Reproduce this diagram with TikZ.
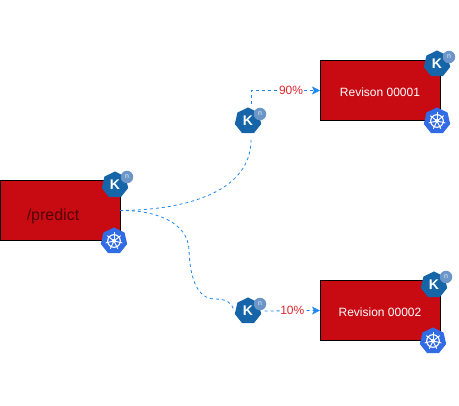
\documentclass[tikz,border=0pt]{standalone}
\usepackage{fontspec}
\setmainfont{Liberation Sans}
\usetikzlibrary{shapes.geometric,arrows.meta}
\definecolor{boxred}{HTML}{C80A12}
\definecolor{linkblue}{HTML}{1E88F0}
\definecolor{knblue}{HTML}{1565A8}
\definecolor{knbadge}{HTML}{6C96C8}
\definecolor{kubeblue}{HTML}{326CE5}
\definecolor{pctred}{HTML}{E0262C}
\tikzset{
  x=1pt,y=-1pt,
  boxnode/.style={draw=black,line width=1pt,fill=boxred,minimum width=120pt,minimum height=60pt,inner sep=0pt,outer sep=0pt},
  boxtext/.style={text=white,font=\fontsize{12}{14}\selectfont},
  knhept/.style={regular polygon,regular polygon sides=7,fill=knblue,minimum size=27pt,inner sep=0pt,text=white,font=\bfseries\fontsize{14}{14}\selectfont},
  knsmall/.style={circle,fill=knbadge,minimum size=12.5pt,inner sep=0pt,text=white!85!knbadge,font=\fontsize{7}{7}\selectfont},
  kubehept/.style={regular polygon,regular polygon sides=7,fill=kubeblue,minimum size=27pt,inner sep=0pt},
  link/.style={draw=linkblue,line width=0.8pt,dash pattern=on 3pt off 3pt},
  linkarrow/.style={link,-{Stealth[length=8pt,width=8pt,inset=2pt]}},
  pct/.style={fill=white,text=pctred,inner sep=0.5pt,font=\fontsize{12}{14}\selectfont},
}
\newcommand{\kubewheel}[2]{%
  \begin{scope}[shift={(#1,#2)}]
    \draw[white,line width=1.1pt] (0,0) circle (6.3pt);
    \foreach \a in {90,141.4,192.9,244.3,295.7,347.1,38.6}
      \draw[white,line width=0.9pt] (0,0) -- (\a:8.6pt);
    \fill[white] (0,0) circle (2pt);
  \end{scope}}
\begin{document}
\begin{tikzpicture}
\useasboundingbox (0,0) rectangle (459,406);
% boxes
\node[boxnode] (predict) at (60,210.5) {};
\node[boxnode] (revone) at (380,90.5) {};
\node[boxnode] (revtwo) at (380,310.5) {};
\node[text=black!60!boxred,font=\fontsize{16}{18}\selectfont] (predlabel) at (53,216) {/predict};
\node[boxtext] (revonelabel) at (380,92) {Revison 00001};
\node[boxtext] (revtwolabel) at (380,312) {Revision 00002};
% mid icons
\node[knhept] (midone) at (248,121) {K};
\node[knsmall] (midonen) at (260,114) {n};
\node[knhept] (midtwo) at (248,311) {K};
\node[knsmall] (midtwon) at (260,304) {n};
% connectors
\coordinate (upin) at (251,140);
\coordinate (upout) at (251,104);
\coordinate (lowin) at (234,311);
\draw[link] (predict.east) .. controls (190,210) and (251,190) .. (upin);
\draw[link] (predict.east) .. controls (155,210) and (188,222) .. (189,250)
  .. controls (190,280) and (198,299) .. (215,299)
  .. controls (227,299) and (232,303) .. (lowin);
\draw[linkarrow] (upout) -- (251,90.5) -- (revone.west) node[pct,pos=0.58] (pctone) {90\%};
\draw[linkarrow] (midtwon.south east |- midtwo.east) -- (revtwo.west) node[pct,pos=0.5] (pcttwo) {10\%};
% box icons
\node[knhept] (kleft) at (115,185) {K};
\node[knsmall] (kleftn) at (127,177) {n};
\node[kubehept] (wleft) at (114,241) {};
\kubewheel{114}{241}
\node[knhept] (kone) at (437,64) {K};
\node[knsmall] (konen) at (449,57) {n};
\node[kubehept] (wone) at (437,121) {};
\kubewheel{437}{121}
\node[knhept] (ktwo) at (434,285) {K};
\node[knsmall] (ktwon) at (446,277) {n};
\node[kubehept] (wtwo) at (433,341) {};
\kubewheel{433}{341}
\end{tikzpicture}
\end{document}
